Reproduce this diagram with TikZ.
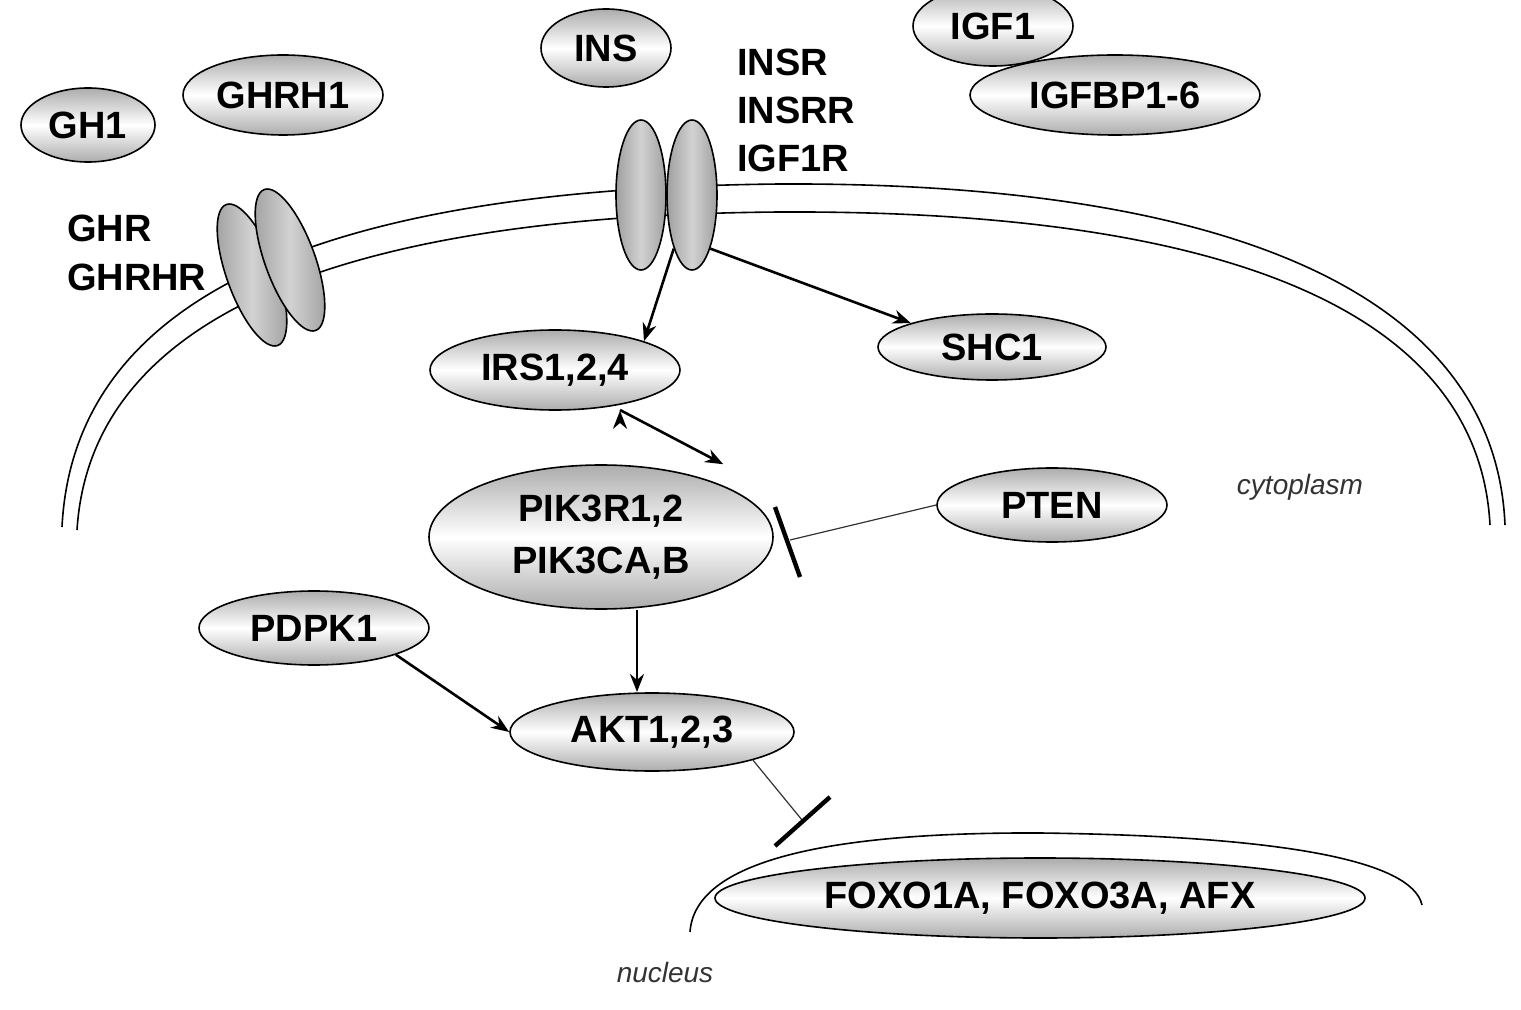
\documentclass[tikz,border=0pt]{standalone}
\usepackage{fontspec}
\setmainfont{Liberation Sans}
\usetikzlibrary{shapes.geometric,arrows.meta}
\begin{document}
\begin{tikzpicture}[x=0.5pt,y=-0.5pt,
  mol/.style={ellipse,draw=black,line width=0.8pt,top color=gray!65,bottom color=gray!65,middle color=white,inner sep=0pt,font=\fontsize{19}{24}\selectfont\bfseries,align=center},
  rec/.style={ellipse,draw=black,line width=0.8pt,left color=gray!75,right color=gray!75,middle color=gray!35,minimum width=25pt,minimum height=75pt,inner sep=0pt},
  lab/.style={font=\fontsize{19}{24}\selectfont\bfseries,anchor=west},
  arr/.style={-{Stealth[length=9pt,width=7pt]},line width=1.3pt},
  inh/.style={gray!40!black,line width=0.6pt},
  bar/.style={line width=2.2pt},
  mem/.style={line width=0.8pt}]
\useasboundingbox (0,0) rectangle (1521,1010);
% membrane
\draw[mem] (62,527) .. controls (75,270) and (380,188) .. (780,184) .. controls (1220,182) and (1495,290) .. (1505,525);
\draw[mem] (77,530) .. controls (92,295) and (390,215) .. (780,212) .. controls (1200,210) and (1478,300) .. (1490,525);
% nucleus
\draw[mem] (690,932) .. controls (695,860) and (830,832) .. (1040,833) .. controls (1280,836) and (1412,860) .. (1422,905);
% receptors
\node[rec,rotate=20] (g1) at (252,275) {};
\node[rec,rotate=20] (g2) at (290,260) {};
\node[rec] (r1) at (641,195) {};
\node[rec] (r2) at (692,195) {};
% molecules
\node[mol,minimum width=67pt,minimum height=37pt] (gh1) at (88,125) {GH1};
\node[mol,minimum width=100pt,minimum height=40pt] (ghrh) at (283,95) {GHRH1};
\node[mol,minimum width=65pt,minimum height=39pt] (ins) at (606,48) {INS};
\node[mol,minimum width=80pt,minimum height=40pt] (igf1) at (993,26) {IGF1};
\node[mol,minimum width=145pt,minimum height=40pt] (igfbp) at (1115,95) {IGFBP1-6};
\node[mol,minimum width=125pt,minimum height=40pt] (irs) at (555,370) {IRS1,2,4};
\node[mol,minimum width=114pt,minimum height=33pt] (shc) at (992,347) {SHC1};
\node[mol,minimum width=172pt,minimum height=72pt] (pik) at (601,537) {PIK3R1,2\\[2pt]PIK3CA,B};
\node[mol,minimum width=115pt,minimum height=37pt] (pten) at (1052,505) {PTEN};
\node[mol,minimum width=115pt,minimum height=37pt] (pdpk) at (314,628) {PDPK1};
\node[mol,minimum width=142pt,minimum height=39pt] (akt) at (652,732) {AKT1,2,3};
\node[mol,minimum width=325pt,minimum height=40pt] (foxo) at (1040,898) {FOXO1A, FOXO3A, AFX};
% labels
\node[lab] (l1) at (730,62) {INSR};
\node[lab] (l2) at (730,110) {INSRR};
\node[lab] (l3) at (730,158) {IGF1R};
\node[lab] (l4) at (60,228) {GHR};
\node[lab] (l5) at (60,277) {GHRHR};
\node[font=\fontsize{14}{16}\selectfont\itshape,text=gray!40!black] (cyto) at (1300,487) {cytoplasm};
\node[font=\fontsize{14}{16}\selectfont\itshape,text=gray!40!black] (nuc) at (665,972) {nucleus};
% arrows
\draw[arr] (r2.south east) ++(0,-0pt) -- (shc.north west);
\draw[arr] (r2.south west) -- (irs.north east);
\draw[arr] (irs.south) ++(65,0) coordinate (a) ;
\draw[arr] (620,410) coordinate (c1) -- (pik.north east |- pik.north) ;
\coordinate (i1) at (790,540);
\draw[inh] (pten.west) -- (i1);
\draw[bar] (775,507) -- (800,577);
\draw[arr] (pik.south) ++(36,0) -- (637,692);
\draw[arr] (pdpk.south east) -- (akt.west);
\coordinate (i2) at (802,820);
\draw[inh] (akt.south east) -- (i2);
\draw[bar] (775,846) -- (830,797);
\end{tikzpicture}
\end{document}
